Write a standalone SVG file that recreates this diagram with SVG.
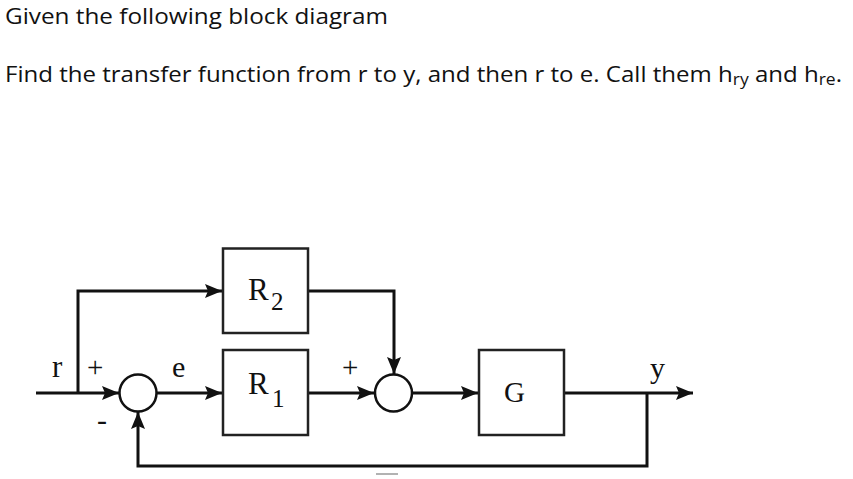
<svg xmlns="http://www.w3.org/2000/svg" width="853" height="479" viewBox="0 0 853 479">
<defs>
<style>
.t{font-family:"Open Sans","Noto Sans",sans-serif;fill:#111;font-size:22px}
.m{font-family:"Liberation Serif","Times New Roman",serif;fill:#111}
.box{fill:#fff;stroke:#222;stroke-width:2.5}
.sum{fill:#fff;stroke:#111;stroke-width:2.5}
.w{fill:none;stroke:#111;stroke-width:3;stroke-linejoin:miter}
</style>
<marker id="ah" markerUnits="userSpaceOnUse" markerWidth="18" markerHeight="16" viewBox="0 0 18 16" refX="17" refY="8" orient="auto">
<path d="M0,1 L17,8 L0,15 L3,8 z" fill="#111"/>
</marker>
</defs>
<rect width="853" height="479" fill="#fff"/>
<text class="t" x="5" y="24" textLength="383" lengthAdjust="spacingAndGlyphs">Given the following block diagram</text>
<text class="t" x="5" y="82" textLength="837" lengthAdjust="spacingAndGlyphs">Find the transfer function from r to y, and then r to e. Call them h<tspan dy="3" font-size="16">ry</tspan><tspan dy="-3"> and h</tspan><tspan dy="3" font-size="16">re</tspan><tspan dy="-3">.</tspan></text>
<g id="connectors">
<path class="w" d="M36,393 H119" marker-end="url(#ah)"/>
<path class="w" d="M78,393 V291 H222" marker-end="url(#ah)"/>
<path class="w" d="M157,393 H222" marker-end="url(#ah)"/>
<path class="w" d="M308,393 H374" marker-end="url(#ah)"/>
<path class="w" d="M308,291 H394 V374" marker-end="url(#ah)"/>
<path class="w" d="M412,393 H478" marker-end="url(#ah)"/>
<path class="w" d="M564,393 H693" marker-end="url(#ah)"/>
<path class="w" d="M647,393 V466 H138 V412" marker-end="url(#ah)"/>
</g>
<g id="sum1">
<circle class="sum" cx="138" cy="393" r="18.5"/>
<text class="m" x="87" y="377" font-size="29">+</text>
<text class="m" x="97" y="430" font-size="30">-</text>
</g>
<g id="sum2">
<circle class="sum" cx="393.5" cy="393" r="18.5"/>
<text class="m" x="342" y="377" font-size="29">+</text>
</g>
<g id="R2">
<rect class="box" x="223" y="248.5" width="85" height="84.5"/>
<text class="m" x="248" y="300" font-size="31">R</text>
<text class="m" x="271" y="310" font-size="25">2</text>
</g>
<g id="R1">
<rect class="box" x="223" y="350" width="85" height="85"/>
<text class="m" x="248" y="394" font-size="31">R</text>
<text class="m" x="272" y="407" font-size="25">1</text>
</g>
<g id="G">
<rect class="box" x="479" y="350" width="85" height="85"/>
<text class="m" x="504" y="402" font-size="29">G</text>
</g>
<g id="labels">
<text class="m" x="52" y="377" font-size="31">r</text>
<text class="m" x="172" y="377" font-size="30">e</text>
<text class="m" x="650" y="378" font-size="30">y</text>
</g>
<line x1="376" y1="474" x2="398" y2="474" stroke="#999" stroke-width="1.5"/>
</svg>
